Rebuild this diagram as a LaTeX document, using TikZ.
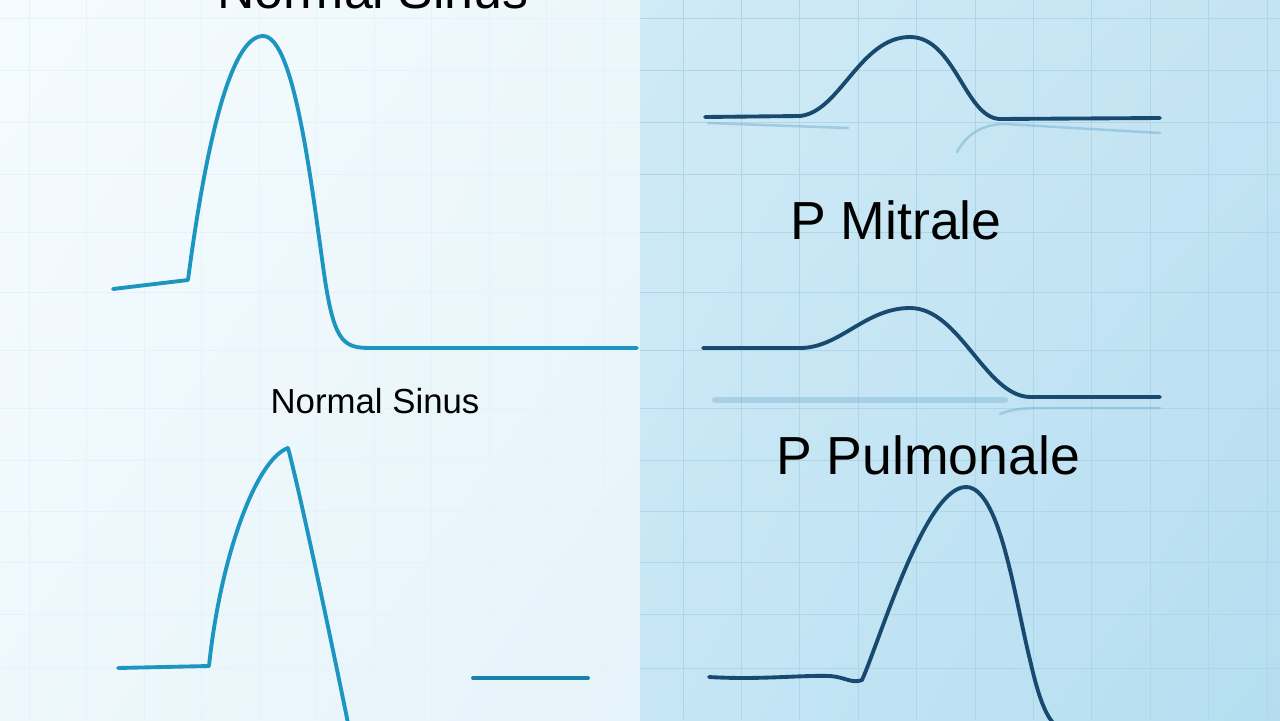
\documentclass[tikz,border=0pt]{standalone}
\usepackage{fontspec}
\setmainfont{Liberation Sans}
\usetikzlibrary{shadings}

\definecolor{paleul}{RGB}{245,251,254}
\definecolor{paleur}{RGB}{236,247,251}
\definecolor{palell}{RGB}{238,248,252}
\definecolor{palelr}{RGB}{229,243,250}
\definecolor{skyul}{RGB}{208,234,246}
\definecolor{skyur}{RGB}{196,228,243}
\definecolor{skyll}{RGB}{198,230,245}
\definecolor{skylr}{RGB}{180,222,240}
\definecolor{gridblue}{RGB}{174,213,232}
\definecolor{gridpale}{RGB}{228,242,249}
\definecolor{sinusteal}{RGB}{28,150,192}
\definecolor{sinusdeep}{RGB}{24,128,170}
\definecolor{navywave}{RGB}{24,74,112}
\definecolor{echoblue}{RGB}{128,184,212}

\begin{document}
\begin{tikzpicture}[
  x=0.02cm, y=-0.02cm,
  label text/.style={inner sep=0pt, anchor=base, text=black},
  wave/.style={line width=2.2pt, line cap=round, line join=round},
  ecg grid/.style={draw=gridblue, line width=0.55pt},
  faint grid/.style={draw=gridpale, line width=0.55pt},
  echo/.style={draw=echoblue, line width=1.4pt, line cap=round, opacity=0.6}
]
\useasboundingbox (0,0) rectangle (1280,720);
\clip (0,0) rectangle (1280,720);

% panels
\shade[upper left=paleul, upper right=paleur, lower left=palell, lower right=palelr]
  (0,0) rectangle (640,720);
\shade[upper left=skyul, upper right=skyur, lower left=skyll, lower right=skylr]
  (640,0) rectangle (1280,720);

% grid paper
\foreach \gx in {0,...,10}
  \draw[faint grid] ({29+57.5*\gx},0) -- ({29+57.5*\gx},720);
\foreach \gx in {0,...,10}
  \draw[ecg grid] ({683+58.4*\gx},0) -- ({683+58.4*\gx},720);
\foreach \gy in {18,70,122,174,232,292,350,408,460,511,562,614,668} {
  \draw[faint grid] (0,\gy) -- (640,\gy);
  \draw[ecg grid] (640,\gy) -- (1280,\gy);
}

% labels
\node[label text, font=\fontsize{29.5}{32}\selectfont] (title) at (373,9) {Normal Sinus};
\node[label text, font=\fontsize{19.8}{22}\selectfont] (sinus) at (375,413) {Normal Sinus};
\node[label text, font=\fontsize{30.5}{33}\selectfont] (mitrale) at (896,239) {P Mitrale};
\node[label text, font=\fontsize{30.5}{33}\selectfont] (pulmonale) at (928,474) {P Pulmonale};

% normal sinus traces
\draw[wave, draw=sinusteal] (113,289) -- (188,280)
  .. controls (205,150) and (230,36) .. (263,36)
  .. controls (295,36) and (312,190) .. (325,280)
  .. controls (335,345) and (345,348) .. (372,348) -- (637,348);
\draw[wave, draw=sinusteal] (118,668) -- (209,666)
  .. controls (220,560) and (255,460) .. (288,448)
  .. controls (298,485) and (325,610) .. (349,728);
\draw[wave, draw=sinusdeep] (473,678) -- (588,678);

% echoes under the right traces
\draw[echo] (708,123) -- (848,128);
\draw[echo] (957,152) .. controls (968,132) and (985,124) .. (1005,124) -- (1160,133);
\draw[echo, line width=3.5pt, opacity=0.45] (715,400) -- (1005,400);
\draw[echo] (1000,414) .. controls (1010,410) and (1020,408) .. (1040,408) -- (1160,408);

% p mitrale traces
\draw[wave, draw=navywave] (705,117) -- (800,116)
  .. controls (840,112) and (860,37) .. (910,37)
  .. controls (955,37) and (965,118) .. (1000,119) -- (1160,118);
\draw[wave, draw=navywave] (703,348) -- (800,348)
  .. controls (840,348) and (865,308) .. (910,308)
  .. controls (960,308) and (985,396) .. (1030,397) -- (1160,397);

% p pulmonale trace
\draw[wave, draw=navywave] (709,677)
  .. controls (760,680) and (800,675) .. (830,676)
  .. controls (845,677) and (852,684) .. (862,680)
  .. controls (880,640) and (925,487) .. (966,487)
  .. controls (1000,487) and (1015,600) .. (1030,660)
  .. controls (1038,695) and (1045,715) .. (1055,725);
\end{tikzpicture}
\end{document}
